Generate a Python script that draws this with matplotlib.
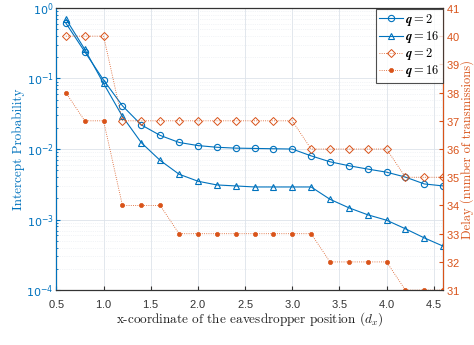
import numpy as np
import matplotlib
matplotlib.use("Agg")
import matplotlib.pyplot as plt
from matplotlib.ticker import LogLocator, NullFormatter, MultipleLocator

plt.rcParams['mathtext.fontset'] = 'cm'
plt.rcParams['axes.formatter.use_mathtext'] = True

# eavesdropper x positions
dx = [0.6, 0.8, 1.0, 1.2, 1.4, 1.6, 1.8, 2.0, 2.2, 2.4, 2.6,
      2.8, 3.0, 3.2, 3.4, 3.6, 3.8, 4.0, 4.2, 4.4, 4.6]

# intercept probability
p_q2 = [0.61, 0.24, 0.095, 0.041, 0.022, 0.0156, 0.0124, 0.0112, 0.0106, 0.0103, 0.0102,
        0.0101, 0.0100, 0.0080, 0.0066, 0.0058, 0.0052, 0.0047, 0.0040, 0.0032, 0.0030]
p_q16 = [0.70, 0.26, 0.085, 0.029, 0.0123, 0.0069, 0.0044, 0.0035, 0.0031, 0.0030, 0.0029,
         0.0029, 0.0029, 0.0029, 0.00194, 0.00147, 0.00117, 0.00098, 0.00074, 0.00055, 0.00042]

# delay (number of transmissions)
d_q2 = [40, 40, 40, 37, 37, 37, 37, 37, 37, 37, 37,
        37, 37, 36, 36, 36, 36, 36, 35, 35, 35]
d_q16 = [38, 37, 37, 34, 34, 34, 33, 33, 33, 33, 33,
         33, 33, 33, 32, 32, 32, 32, 31, 31, 31]

labels = [r'$\boldsymbol{q = 2}$', r'$\boldsymbol{q = 16}$',
          r'$\boldsymbol{q = 2}$', r'$\boldsymbol{q = 16}$']

blue = '#0072BD'
orange = '#D95319'

fig = plt.figure(figsize=(4.74, 3.45), dpi=100)
ax = fig.add_axes([0.119, 0.159, 0.816, 0.818])
ax2 = ax.twinx()

l1, = ax.semilogy(dx, p_q2, '-o', color=blue, lw=0.8, ms=4.5, mfc='none', mew=0.8)
l2, = ax.semilogy(dx, p_q16, '-^', color=blue, lw=0.8, ms=4.5, mfc='none', mew=0.8)
l3, = ax2.plot(dx, d_q2, ':D', color=orange, lw=0.6, ms=3.6, mfc='none', mew=0.7)
l4, = ax2.plot(dx, d_q16, ':o', color=orange, lw=0.6, ms=3.0, mfc=orange, mew=0.5)

ax.set_xlim(0.5, 4.6)
ax.set_ylim(1e-4, 1)
ax2.set_ylim(31, 41)
ax2.yaxis.set_major_locator(MultipleLocator(1))
ax.xaxis.set_major_locator(MultipleLocator(0.5))
ax.yaxis.set_major_locator(LogLocator(base=10, numticks=10))
ax.yaxis.set_minor_locator(LogLocator(base=10, subs=np.arange(2, 10), numticks=10))
ax.yaxis.set_minor_formatter(NullFormatter())

ax.grid(True, which='major', color='#dde3ea', lw=0.6)
ax.grid(True, which='minor', axis='y', color='#e6eaef', lw=0.5, ls=':')

tickfont = 'Liberation Sans'
ax.tick_params(axis='x', labelsize=8, colors='#333333', direction='in', length=3, pad=5.5)
ax.tick_params(axis='y', labelsize=8, colors=blue, direction='in', length=3, which='both', pad=2)
ax.tick_params(axis='y', which='minor', length=1.5)
ax2.tick_params(axis='y', labelsize=8, colors=orange, direction='in', length=3, pad=2)
for lab in ax.get_xticklabels() + ax2.get_yticklabels():
    lab.set_fontfamily(tickfont)

ax2.spines['left'].set_color(blue)
ax2.spines['right'].set_color(orange)
ax2.spines['top'].set_color('#333333')
ax2.spines['bottom'].set_color('#333333')

ax.set_xlabel(r'x-coordinate of the eavesdropper position ($d_x$)', family='cmr10',
              fontsize=9.5, color='#222222', labelpad=0)
ax.set_ylabel('Intercept Probability', family='cmr10', fontsize=9.5, color=blue, labelpad=1)
ax2.set_ylabel('Delay (number of transmissions)', family='cmr10', fontsize=9,
               color=orange, labelpad=0.5)

leg = ax2.legend([l1, l2, l3, l4], labels,
                 loc='upper right', fontsize=9, frameon=True, fancybox=False,
                 borderpad=0.25, labelspacing=0.1, handlelength=1.9, handletextpad=0.2,
                 borderaxespad=0.05)
leg.get_frame().set_edgecolor('#222222')
leg.get_frame().set_linewidth(0.8)

fig.savefig('out.png', dpi=100)
